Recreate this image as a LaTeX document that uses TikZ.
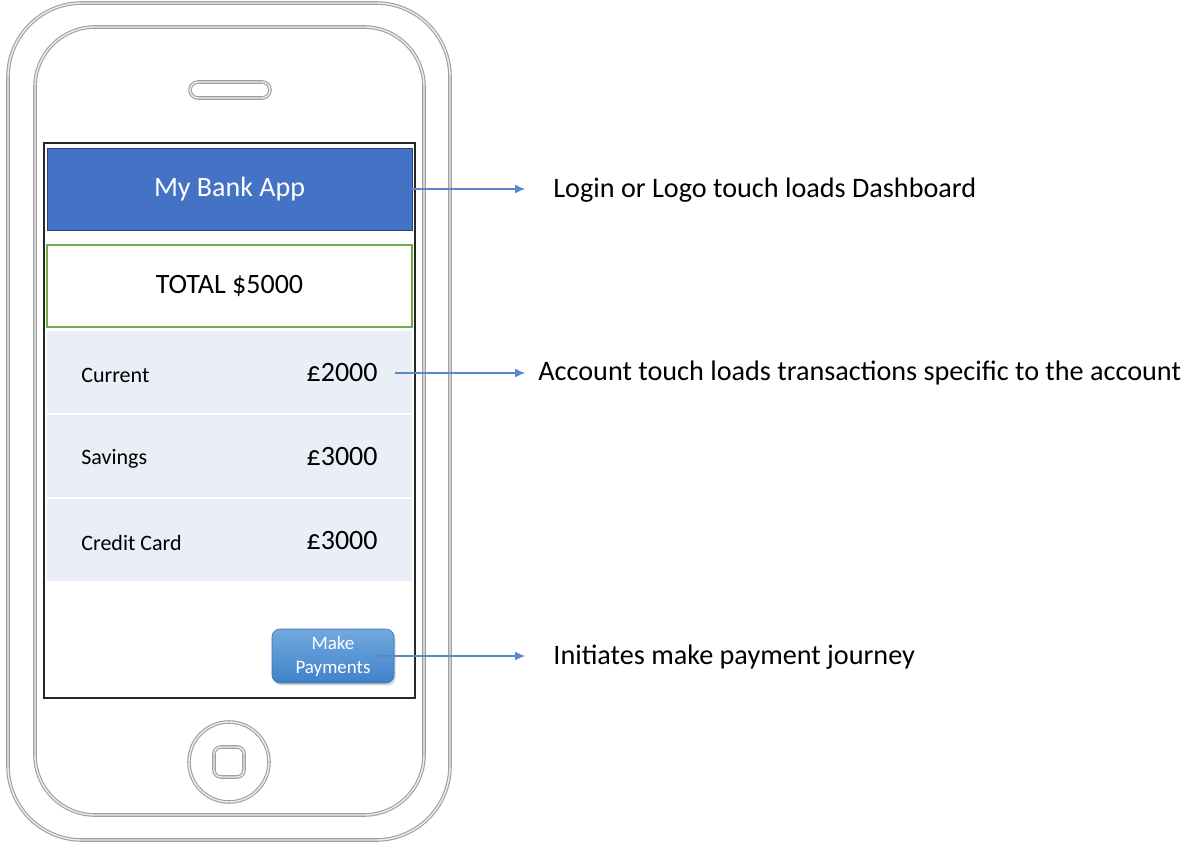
\documentclass[tikz,border=0pt]{standalone}
\usepackage{fontspec}
\setmainfont{Carlito}
\usetikzlibrary{arrows.meta, positioning, shadows}

\definecolor{hdrblue}{HTML}{4472C4}
\definecolor{boxgreen}{HTML}{70AD47}
\definecolor{rowblue}{HTML}{E9EEF7}
\definecolor{btntop}{HTML}{72A9DF}
\definecolor{btnbot}{HTML}{3F82CA}
\definecolor{linkblue}{HTML}{5B86D0}

\tikzset{
  case/.style={draw=gray!75, double=gray!15, line width=0.55pt, double distance=0.7pt},
  bar/.style={minimum width=182.5pt, minimum height=41pt, inner sep=0pt},
  acct/.style={font=\fontsize{11}{13}\selectfont, inner sep=0pt},
  amt/.style={font=\fontsize{14}{16}\selectfont, inner sep=0pt},
  note/.style={font=\fontsize{14.1}{16}\selectfont, inner sep=0pt, anchor=west},
  link/.style={->, draw=linkblue, line width=0.6pt}
}

\begin{document}
\begin{tikzpicture}[x=0.5pt, y=-0.5pt, >={Latex[length=5pt, width=4.5pt]}]
    \useasboundingbox (0,0) rectangle (1200,845);

    % phone body
    \draw[case, rounded corners=37pt] (8,3) rectangle (450,840);
    \draw[case, rounded corners=30pt] (35,27) rectangle (424,815);
    \draw[case, rounded corners=4pt] (190,82) rectangle (270,98);
    \draw[case] (229,762) circle[radius=40];
    \draw[case, rounded corners=3.5pt] (214,747) rectangle (244,777);

    % screen
    \draw[black!85, line width=1pt] (44,143) rectangle (415,698);

    \node[bar, fill=hdrblue, draw=hdrblue!60!black, text=white,
      font=\fontsize{14}{17}\selectfont] (hdr) at (229.5,189) {My Bank App};
    \node[bar, draw=boxgreen, line width=0.6pt,
      font=\fontsize{14}{17}\selectfont] (total) at (229.5,286) {TOTAL \$5000};

    \node[bar, fill=rowblue] (row-cur) at (229.5,372) {};
    \node[bar, fill=rowblue] (row-sav) at (229.5,456) {};
    \node[bar, fill=rowblue] (row-cc) at (229.5,540) {};

    \node[acct, anchor=west] (cur-lbl) at (81,375) {Current};
    \node[acct, anchor=west] (sav-lbl) at (81,459) {Savings};
    \node[acct, anchor=west] (cc-lbl) at (81,543) {Credit Card};
    \node[amt, anchor=east] (cur-amt) at (378,373) {£2000};
    \node[amt, anchor=east] (sav-amt) at (378,457) {£3000};
    \node[amt, anchor=east] (cc-amt) at (378,541) {£3000};

    \node[rounded corners=4pt, top color=btntop, bottom color=btnbot,
      draw=btnbot!90!black, line width=0.3pt, text=white, align=center,
      drop shadow={opacity=0.35, shadow xshift=0.8pt, shadow yshift=-1.2pt},
      minimum width=61pt, minimum height=27pt, inner sep=0pt,
      font=\fontsize{9.5}{12}\selectfont] (btn) at (333,656) {Make\\Payments};

    % notes
    \node[note] (login-note) at (553,190) {Login or Logo touch loads Dashboard};
    \node[note] (acct-note) at (538,373) {Account touch loads transactions specific to the account};
    \node[note] (pay-note) at (553,657) {Initiates make payment journey};

    \draw[link, shorten >=14pt] (hdr.east) -- (hdr.east -| login-note.west);
    \draw[link, shorten >=6.5pt] ([xshift=8.5pt]cur-amt.east) -- (cur-amt.east -| acct-note.west);
    \draw[link, shorten >=14pt] ([xshift=-8pt]btn.east) -- (btn.east -| pay-note.west);
\end{tikzpicture}
\end{document}
